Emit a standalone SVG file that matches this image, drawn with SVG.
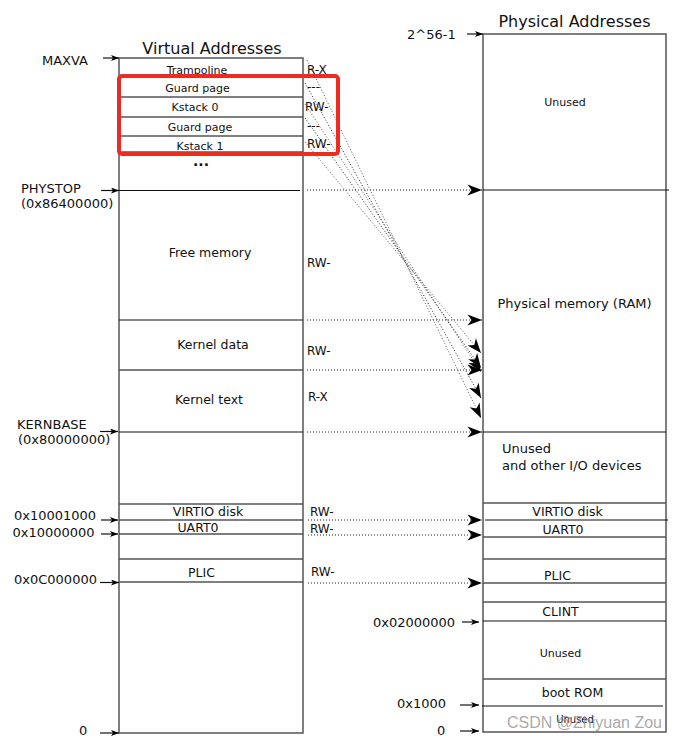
<svg xmlns="http://www.w3.org/2000/svg" width="676" height="741" viewBox="0 0 676 741">
<defs>
<style>
.box{fill:none;stroke:#555;stroke-width:1.5}
.ln{stroke:#555;stroke-width:1.3}
.lk{stroke:#111;stroke-width:1.2}
text{font-family:"DejaVu Sans","Noto Sans",sans-serif;fill:#111}
.title{font-size:16px;text-anchor:middle}
.lbl{font-size:13px}
.row{font-size:11px;text-anchor:middle}
.mid{font-size:12.5px;text-anchor:middle}
.perm{font-size:12px}
.dot{stroke:#222;stroke-width:1;stroke-dasharray:1 2;fill:none}
.dg{stroke:#555;stroke-width:1;stroke-dasharray:1 2;fill:none}
.ptr{stroke:#111;stroke-width:1.2}
</style>
<marker id="ah" markerUnits="userSpaceOnUse" markerWidth="16" markerHeight="12" refX="15" refY="6" orient="auto" viewBox="0 0 16 12"><path d="M15,6 L0.5,0.5 L4.5,6 L0.5,11.5 Z" fill="#000"/></marker>
<marker id="sa" markerUnits="userSpaceOnUse" markerWidth="8" markerHeight="6" refX="8" refY="3" orient="auto" viewBox="0 0 8 6"><path d="M8,3 L0,0 L2,3 L0,6 Z" fill="#000"/></marker>
</defs>
<rect width="676" height="741" fill="#fff"/>

<text class="title" x="212" y="54">Virtual Addresses</text>
<text class="title" x="574.5" y="27">Physical Addresses</text>

<g id="virtual">
<rect class="box" x="119" y="58" width="184" height="675"/>
<line class="ln" x1="119" y1="77" x2="303" y2="77"/>
<line class="ln" x1="119" y1="97" x2="303" y2="97"/>
<line class="ln" x1="119" y1="117" x2="303" y2="117"/>
<line class="ln" x1="119" y1="136" x2="303" y2="136"/>
<line class="ln" x1="119" y1="152" x2="303" y2="152"/>
<line class="lk" x1="119" y1="190.5" x2="300" y2="190.5"/>
<line class="lk" x1="119" y1="320" x2="303" y2="320"/>
<line class="ln" x1="119" y1="370" x2="303" y2="370"/>
<line class="lk" x1="119" y1="432" x2="303" y2="432"/>
<line class="ln" x1="119" y1="504" x2="303" y2="504"/>
<line class="ln" x1="119" y1="520" x2="303" y2="520"/>
<line class="ln" x1="119" y1="534" x2="303" y2="534"/>
<line class="ln" x1="119" y1="559" x2="303" y2="559"/>
<line class="ln" x1="119" y1="582" x2="303" y2="582"/>
</g>

<g id="v-trampoline"><text class="row" x="197" y="74">Trampoline</text><text class="perm" x="307" y="74">R-X</text></g>
<g id="v-guard0"><text class="row" x="197.5" y="92">Guard page</text><text class="perm" x="307" y="91">---</text></g>
<g id="v-kstack0"><text class="row" x="195" y="111">Kstack 0</text><text class="perm" x="305" y="111">RW-</text></g>
<g id="v-guard1"><text class="row" x="200" y="131">Guard page</text><text class="perm" x="307" y="130">---</text></g>
<g id="v-kstack1"><text class="row" x="200" y="150">Kstack 1</text><text class="perm" x="307" y="148">RW-</text></g>
<g id="v-dots"><text x="201" y="166" style="font-size:14px;font-weight:bold;text-anchor:middle">...</text></g>
<g id="v-free"><text class="mid" x="210" y="257">Free memory</text><text class="perm" x="307" y="267">RW-</text></g>
<g id="v-kdata"><text class="mid" x="213" y="349">Kernel data</text><text class="perm" x="307" y="355">RW-</text></g>
<g id="v-ktext"><text class="mid" x="209" y="404">Kernel text</text><text class="perm" x="308" y="401">R-X</text></g>
<g id="v-virtio"><text class="mid" x="208" y="516">VIRTIO disk</text><text class="perm" x="310" y="516">RW-</text></g>
<g id="v-uart"><text class="mid" x="198" y="532">UART0</text><text class="perm" x="310" y="533">RW-</text></g>
<g id="v-plic"><text class="mid" x="201.5" y="577">PLIC</text><text class="perm" x="311" y="576">RW-</text></g>

<g id="v-labels">
<text class="lbl" x="42" y="65">MAXVA</text>
<line class="ptr" x1="103" y1="58" x2="119" y2="58" marker-end="url(#sa)"/>
<text class="lbl" x="21" y="193">PHYSTOP</text>
<text class="lbl" x="21" y="208">(0x86400000)</text>
<line class="ptr" x1="101" y1="190.5" x2="119" y2="190.5" marker-end="url(#sa)"/>
<text class="lbl" x="17" y="429">KERNBASE</text>
<text class="lbl" x="18" y="444">(0x80000000)</text>
<line class="ptr" x1="100" y1="431.5" x2="118" y2="431.5" marker-end="url(#sa)"/>
<text class="lbl" x="14" y="520">0x10001000</text>
<line class="ptr" x1="101" y1="520" x2="118" y2="520" marker-end="url(#sa)"/>
<text class="lbl" x="12.5" y="537">0x10000000</text>
<line class="ptr" x1="101" y1="534" x2="118" y2="534" marker-end="url(#sa)"/>
<text class="lbl" x="14" y="584">0x0C000000</text>
<line class="ptr" x1="100" y1="582.5" x2="119" y2="582.5" marker-end="url(#sa)"/>
<text class="lbl" x="79" y="735">0</text>
<line class="ptr" x1="100" y1="733" x2="119" y2="733" marker-end="url(#sa)"/>
</g>

<g id="physical">
<rect class="box" x="483" y="34" width="183" height="698"/>
<line class="lk" x1="483" y1="190" x2="669" y2="190"/>
<line class="lk" x1="483" y1="432" x2="666" y2="432"/>
<line class="ln" x1="483" y1="503" x2="666" y2="503"/>
<line class="lk" x1="485" y1="520" x2="668" y2="520"/>
<line class="ln" x1="483" y1="537" x2="666" y2="537"/>
<line class="ln" x1="483" y1="559" x2="666" y2="559"/>
<line class="ln" x1="483" y1="583" x2="666" y2="583"/>
<line class="ln" x1="483" y1="602" x2="666" y2="602"/>
<line class="lk" x1="483" y1="621" x2="666" y2="621"/>
<line class="ln" x1="483" y1="679" x2="666" y2="679"/>
<line class="lk" x1="482" y1="706" x2="663" y2="706"/>
</g>

<g id="p-unused-top"><text class="row" x="565" y="106">Unused</text></g>
<g id="p-ram"><text class="lbl" x="574.5" y="308" style="text-anchor:middle">Physical memory (RAM)</text></g>
<g id="p-io"><text class="lbl" x="502" y="453">Unused</text><text class="lbl" x="502" y="470">and other I/O devices</text></g>
<g id="p-virtio"><text class="mid" x="567.5" y="516">VIRTIO disk</text></g>
<g id="p-uart"><text class="mid" x="563" y="534">UART0</text></g>
<g id="p-plic"><text class="mid" x="557.5" y="580">PLIC</text></g>
<g id="p-clint"><text class="mid" x="560.5" y="616">CLINT</text></g>
<g id="p-unused-mid"><text class="row" x="560.5" y="657">Unused</text></g>
<g id="p-bootrom"><text class="mid" x="572.5" y="697">boot ROM</text></g>
<g id="p-unused-low"><text x="575" y="723" style="font-size:10px;text-anchor:middle">Unused</text></g>

<g id="p-labels">
<text class="lbl" x="407" y="39">2^56-1</text>
<line class="ptr" x1="467" y1="34" x2="483" y2="34" marker-end="url(#sa)"/>
<text class="lbl" x="373" y="627">0x02000000</text>
<line class="ptr" x1="462" y1="622" x2="479" y2="622" marker-end="url(#sa)"/>
<text class="lbl" x="397" y="708">0x1000</text>
<line class="ptr" x1="460" y1="705" x2="479" y2="705" marker-end="url(#sa)"/>
<text class="lbl" x="437" y="735">0</text>
<line class="ptr" x1="460" y1="731" x2="479" y2="731" marker-end="url(#sa)"/>
</g>

<g id="connectors">
<line class="dot" x1="307" y1="190" x2="482" y2="190" marker-end="url(#ah)"/>
<line class="dot" x1="307" y1="320" x2="482" y2="320" marker-end="url(#ah)"/>
<line class="dot" x1="307" y1="370" x2="482" y2="370" marker-end="url(#ah)"/>
<line class="dot" x1="307" y1="432" x2="482" y2="432" marker-end="url(#ah)"/>
<line class="dot" x1="308" y1="520" x2="482" y2="520" marker-end="url(#ah)"/>
<line class="dot" x1="308" y1="535" x2="482" y2="535" marker-end="url(#ah)"/>
<line class="dot" x1="308" y1="583" x2="482" y2="583" marker-end="url(#ah)"/>
<line class="dg" x1="307" y1="60" x2="481" y2="418" marker-end="url(#ah)"/>
<line class="dot" x1="305" y1="83" x2="481" y2="398" marker-end="url(#ah)"/>
<line class="dg" x1="305" y1="104" x2="481" y2="372" marker-end="url(#ah)"/>
<line class="dot" x1="305" y1="118" x2="481" y2="368" marker-end="url(#ah)"/>
<line class="dg" x1="305" y1="142" x2="481" y2="353" marker-end="url(#ah)"/>
</g>

<rect id="highlight" x="119" y="76" width="219" height="78" rx="3" fill="none" stroke="#ee2a22" stroke-width="4"/>

<text x="507" y="728" style="font-family:'Liberation Sans',Arial,sans-serif;font-size:16px;fill:#999;fill-opacity:0.85">CSDN @Zhiyuan Zou</text>
</svg>
